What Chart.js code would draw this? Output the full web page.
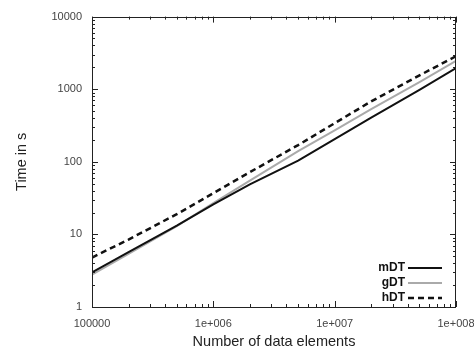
<!DOCTYPE html>
<html>
<head>
<meta charset="utf-8">
<script src="https://cdn.jsdelivr.net/npm/chart.js@4"></script>
<style>
html,body{margin:0;padding:0;background:#fff;}
#wrap{width:474px;height:356px;}
</style>
</head>
<body>
<div id="wrap"><canvas id="c" width="474" height="356"></canvas></div>
<script>
const xVals=[1e5,2e5,5e5,1e6,2e6,5e6,1e7,2e7,5e7,1e8]
const mDT=[3.0,5.7,13.2,26,49,104,205,405,980,1950]
const gDT=[2.8,5.4,13,27,55,140,270,530,1250,2450]
const hDT=[4.8,8.5,19,37,72,170,340,680,1550,2850]

const xTicks=[1e5,1e6,1e7,1e8]
const xTickLabels=["100000","1e+006","1e+007","1e+008"]
const yTicks=[1,10,100,1000,10000]
const yTickLabels=["1","10","100","1000","10000"]

const FONT="'Liberation Sans', Arial, sans-serif"

function pts(arr){
return xVals.map((x,i)=>({x:x,y:arr[i]}))
}

// gnuplot style ticks on all four sides, pointing inward
const tickPlugin={
id:"gpTicks",
afterDatasetsDraw(chart){
const ctx=chart.ctx
const a=chart.chartArea
const sx=chart.scales.x, sy=chart.scales.y
ctx.save()
ctx.strokeStyle="#222"
ctx.lineWidth=1
ctx.beginPath()
function xt(v,len){
const p=Math.round(sx.getPixelForValue(v))+0.5
ctx.moveTo(p,a.bottom);ctx.lineTo(p,a.bottom-len)
ctx.moveTo(p,a.top);ctx.lineTo(p,a.top+len)
}
function yt(v,len){
const p=Math.round(sy.getPixelForValue(v))+0.5
ctx.moveTo(a.left,p);ctx.lineTo(a.left+len,p)
ctx.moveTo(a.right,p);ctx.lineTo(a.right-len,p)
}
for(let d=1e5;d<=1e8;d*=10){
xt(d,6)
if(d<1e8) for(let k=2;k<10;k++) xt(d*k,3)
}
for(let d=1;d<=1e4;d*=10){
yt(d,6)
if(d<1e4) for(let k=2;k<10;k++) yt(d*k,3)
}
ctx.stroke()
ctx.strokeRect(Math.round(a.left)+0.5,Math.round(a.top)+0.5,Math.round(a.right-a.left)-1,Math.round(a.bottom-a.top))
ctx.restore()
}
}

// key inside the plot, bottom right, text then sample
const keyPlugin={
id:"gpKey",
afterDraw(chart){
const ctx=chart.ctx
const a=chart.chartArea
ctx.save()
ctx.font="bold 12px "+FONT
ctx.fillStyle="#111"
ctx.textAlign="right"
ctx.textBaseline="middle"
chart.data.datasets.forEach((ds,i)=>{
const y=a.bottom-39+15*i
ctx.fillText(ds.label,a.right-51,y)
ctx.beginPath()
ctx.strokeStyle=ds.borderColor
ctx.lineWidth=ds.borderWidth
ctx.setLineDash(ds.borderDash||[])
ctx.moveTo(a.right-48,y)
ctx.lineTo(a.right-14,y)
ctx.stroke()
})
ctx.restore()
}
}

new Chart(document.getElementById("c"),{
type:"line",
data:{
datasets:[{
label:"mDT",
data:pts(mDT),
borderColor:"#111",
borderWidth:2,
pointRadius:0
},{
label:"gDT",
data:pts(gDT),
borderColor:"#aaa",
borderWidth:2,
pointRadius:0
},{
label:"hDT",
data:pts(hDT),
borderColor:"#111",
borderWidth:2.5,
borderDash:[6,4],
pointRadius:0
}]
},
options:{
responsive:false,
animation:false,
layout:{padding:{left:0,right:18,top:15,bottom:0}},
plugins:{legend:{display:false},tooltip:{enabled:false}},
scales:{
x:{
type:"logarithmic",
min:1e5,max:1e8,
grid:{display:false,drawTicks:false},
border:{display:false},
afterBuildTicks:s=>{s.ticks=xTicks.map(v=>({value:v}))},
afterFit:s=>{s.height=49;s.paddingLeft=0;s.paddingRight=0},
ticks:{
color:"#444",
padding:10,
maxRotation:0,
autoSkip:false,
font:{family:FONT,size:11},
callback:v=>xTickLabels[xTicks.indexOf(v)]
},
title:{display:true,text:"Number of data elements",color:"#222",font:{family:FONT,size:14.5},padding:{top:0,bottom:5}}
},
y:{
type:"logarithmic",
min:1,max:10000,
grid:{display:false,drawTicks:false},
border:{display:false},
afterBuildTicks:s=>{s.ticks=yTicks.map(v=>({value:v}))},
afterFit:s=>{s.width=92},
ticks:{
color:"#444",
padding:10,
autoSkip:false,
font:{family:FONT,size:11},
callback:v=>yTickLabels[yTicks.indexOf(v)]
},
title:{display:true,text:"Time in s",color:"#222",font:{family:FONT,size:14.5},padding:{top:13,bottom:0}}
}
}
},
plugins:[tickPlugin,keyPlugin]
})
</script>
</body>
</html>
